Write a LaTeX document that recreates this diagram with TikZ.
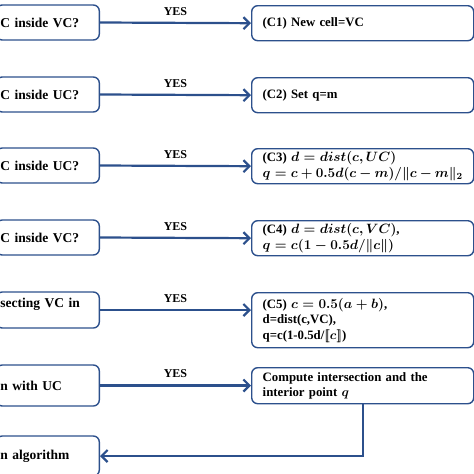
\documentclass[tikz,border=0pt]{standalone}
\usepackage{fix-cm}
\usepackage{fontspec}
\setmainfont{Liberation Serif}
\usetikzlibrary{arrows.meta}
\definecolor{ln}{RGB}{44,80,140}
\newcommand{\bmth}[1]{{\boldmath\fontsize{13.5}{15.5}\selectfont$#1$}}
\begin{document}
\begin{tikzpicture}[x=1pt,y=-1pt,
 box/.style={draw=ln, line width=1.4pt, rounded corners=6pt, font=\bfseries\boldmath\fontsize{12.8}{15.5}\selectfont, inner ysep=1pt},
 lbox/.style={box, anchor=east, text width=95pt, inner xsep=4pt, align=left, font=\bfseries\fontsize{13.5}{14.5}\selectfont},
 rbox/.style={box, anchor=north west, text width=200pt, inner xsep=11pt, align=left},
 conn/.style={draw=ln, line width=2.2pt, -{Straight Barb[length=6pt,width=12pt]}},
 yes/.style={font=\bfseries\fontsize{12}{13}\selectfont, above=3pt}]
\useasboundingbox (0,0) rectangle (474,474);
\clip (0,0) rectangle (474,474);
% left column
\node[lbox, minimum height=35pt] (l1) at (100,22.5) {C inside VC?};
\node[lbox, minimum height=35pt] (l2) at (100,94.5) {C inside UC?};
\node[lbox, minimum height=35pt] (l3) at (100,165.5) {C inside UC?};
\node[lbox, minimum height=35pt] (l4) at (100,237.5) {C inside VC?};
\node[lbox, minimum height=36pt] (l5) at (100,310) {secting VC in\\ \mbox{}};
\node[lbox, minimum height=41pt] (l6) at (100,385.5) {n with UC};
\node[lbox, minimum height=40pt] (l7) at (100,456) {n algorithm};
% right column
\node[rbox, minimum height=35pt] (r1) at (251,5) {(C1) New cell=VC};
\node[rbox, minimum height=35pt] (r2) at (251,77) {(C2) Set q=m};
\node[rbox, minimum height=35pt] (r3) at (251,148) {(C3) \bmth{d = dist(c,UC)}\\ \bmth{q = c + 0.5d(c-m)/\|c-m\|_2}};
\node[rbox, minimum height=35pt] (r4) at (251,220) {(C4) \bmth{d = dist(c,VC)},\\ \bmth{q = c(1-0.5d/\|c\|)}};
\node[rbox, minimum height=55pt] (r5) at (251,292) {(C5) \bmth{c = 0.5(a+b)},\\ d=dist(c,VC),\\ q=c(1-0.5d/$[\![c]\!]$)};
\node[rbox, minimum height=36pt] (r6) at (251,367) {Compute intersection and the\\ interior point $q$};
% connectors
\draw[conn] (l1.east) -- node[yes] {YES} (r1.west);
\draw[conn] (l2.east) -- node[yes] {YES} (r2.west);
\draw[conn] (l3.east) -- node[yes] {YES} (r3.west);
\draw[conn] (l4.east) -- node[yes] {YES} (r4.west);
\draw[conn] (l5.east) -- node[yes] {YES} (l5.east -| r5.west);
\draw[conn] (l6.east) -- node[yes] {YES} (l6.east -| r6.west);
\draw[conn] (r6.south) |- (l7.east);
\end{tikzpicture}
\end{document}
